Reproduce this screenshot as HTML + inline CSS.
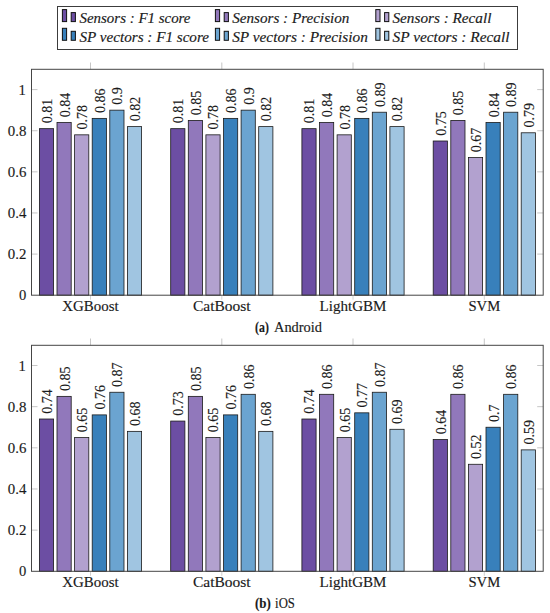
<!DOCTYPE html>
<html><head><meta charset="utf-8"><style>
html,body{margin:0;padding:0;background:#fff;}
svg{display:block;}
text{font-family:"Liberation Serif", serif;fill:#1a1a1a;stroke:#1a1a1a;stroke-width:0.15px;}
</style></head><body>
<svg width="550" height="613" viewBox="0 0 550 613">
<rect x="31.5" y="69.3" width="511.70000000000005" height="225.89999999999998" fill="#fff" stroke="none"/>
<text x="26.4" y="300.30" text-anchor="end" font-size="14.6">0</text>
<line x1="31.5" y1="254.08" x2="37.5" y2="254.08" stroke="#b8b8b8" stroke-width="0.8"/>
<line x1="537.2" y1="254.08" x2="543.2" y2="254.08" stroke="#b8b8b8" stroke-width="0.8"/>
<text x="26.4" y="259.18" text-anchor="end" font-size="14.6" textLength="18.6" lengthAdjust="spacingAndGlyphs">0.2</text>
<line x1="31.5" y1="212.96" x2="37.5" y2="212.96" stroke="#b8b8b8" stroke-width="0.8"/>
<line x1="537.2" y1="212.96" x2="543.2" y2="212.96" stroke="#b8b8b8" stroke-width="0.8"/>
<text x="26.4" y="218.06" text-anchor="end" font-size="14.6" textLength="18.6" lengthAdjust="spacingAndGlyphs">0.4</text>
<line x1="31.5" y1="171.84" x2="37.5" y2="171.84" stroke="#b8b8b8" stroke-width="0.8"/>
<line x1="537.2" y1="171.84" x2="543.2" y2="171.84" stroke="#b8b8b8" stroke-width="0.8"/>
<text x="26.4" y="176.94" text-anchor="end" font-size="14.6" textLength="18.6" lengthAdjust="spacingAndGlyphs">0.6</text>
<line x1="31.5" y1="130.72" x2="37.5" y2="130.72" stroke="#b8b8b8" stroke-width="0.8"/>
<line x1="537.2" y1="130.72" x2="543.2" y2="130.72" stroke="#b8b8b8" stroke-width="0.8"/>
<text x="26.4" y="135.82" text-anchor="end" font-size="14.6" textLength="18.6" lengthAdjust="spacingAndGlyphs">0.8</text>
<line x1="31.5" y1="89.60" x2="37.5" y2="89.60" stroke="#b8b8b8" stroke-width="0.8"/>
<line x1="537.2" y1="89.60" x2="543.2" y2="89.60" stroke="#b8b8b8" stroke-width="0.8"/>
<text x="25.7" y="94.70" text-anchor="end" font-size="14.6">1</text>
<line x1="90.5" y1="295.2" x2="90.5" y2="299.7" stroke="#c4c4c4" stroke-width="0.8"/>
<line x1="90.5" y1="69.3" x2="90.5" y2="62.5" stroke="#b8b8b8" stroke-width="0.8"/>
<line x1="221.8" y1="295.2" x2="221.8" y2="299.7" stroke="#c4c4c4" stroke-width="0.8"/>
<line x1="221.8" y1="69.3" x2="221.8" y2="62.5" stroke="#b8b8b8" stroke-width="0.8"/>
<line x1="353.0" y1="295.2" x2="353.0" y2="299.7" stroke="#c4c4c4" stroke-width="0.8"/>
<line x1="353.0" y1="69.3" x2="353.0" y2="62.5" stroke="#b8b8b8" stroke-width="0.8"/>
<line x1="484.3" y1="295.2" x2="484.3" y2="299.7" stroke="#c4c4c4" stroke-width="0.8"/>
<line x1="484.3" y1="69.3" x2="484.3" y2="62.5" stroke="#b8b8b8" stroke-width="0.8"/>
<rect x="39.40" y="128.66" width="14.2" height="166.54" fill="#6c4ea3" stroke="#1a1a1a" stroke-width="0.8"/>
<text transform="translate(51.90,123.36) rotate(-90)" font-size="14">0.81</text>
<rect x="57.00" y="122.50" width="14.2" height="172.70" fill="#9178bb" stroke="#1a1a1a" stroke-width="0.8"/>
<text transform="translate(69.50,117.20) rotate(-90)" font-size="14">0.84</text>
<rect x="74.60" y="134.83" width="14.2" height="160.37" fill="#b2a1cf" stroke="#1a1a1a" stroke-width="0.8"/>
<text transform="translate(87.10,129.53) rotate(-90)" font-size="14">0.78</text>
<rect x="92.20" y="118.38" width="14.2" height="176.82" fill="#3880bb" stroke="#1a1a1a" stroke-width="0.8"/>
<text transform="translate(104.70,113.08) rotate(-90)" font-size="14">0.86</text>
<rect x="109.80" y="110.16" width="14.2" height="185.04" fill="#6ba4d0" stroke="#1a1a1a" stroke-width="0.8"/>
<text transform="translate(122.30,104.86) rotate(-90)" font-size="14">0.9</text>
<rect x="127.40" y="126.61" width="14.2" height="168.59" fill="#a0c5e1" stroke="#1a1a1a" stroke-width="0.8"/>
<text transform="translate(139.90,121.31) rotate(-90)" font-size="14">0.82</text>
<text x="90.5" y="310.70" text-anchor="middle" font-size="14" textLength="56.3" lengthAdjust="spacingAndGlyphs">XGBoost</text>
<rect x="170.70" y="128.66" width="14.2" height="166.54" fill="#6c4ea3" stroke="#1a1a1a" stroke-width="0.8"/>
<text transform="translate(183.20,123.36) rotate(-90)" font-size="14">0.81</text>
<rect x="188.30" y="120.44" width="14.2" height="174.76" fill="#9178bb" stroke="#1a1a1a" stroke-width="0.8"/>
<text transform="translate(200.80,115.14) rotate(-90)" font-size="14">0.85</text>
<rect x="205.90" y="134.83" width="14.2" height="160.37" fill="#b2a1cf" stroke="#1a1a1a" stroke-width="0.8"/>
<text transform="translate(218.40,129.53) rotate(-90)" font-size="14">0.78</text>
<rect x="223.50" y="118.38" width="14.2" height="176.82" fill="#3880bb" stroke="#1a1a1a" stroke-width="0.8"/>
<text transform="translate(236.00,113.08) rotate(-90)" font-size="14">0.86</text>
<rect x="241.10" y="110.16" width="14.2" height="185.04" fill="#6ba4d0" stroke="#1a1a1a" stroke-width="0.8"/>
<text transform="translate(253.60,104.86) rotate(-90)" font-size="14">0.9</text>
<rect x="258.70" y="126.61" width="14.2" height="168.59" fill="#a0c5e1" stroke="#1a1a1a" stroke-width="0.8"/>
<text transform="translate(271.20,121.31) rotate(-90)" font-size="14">0.82</text>
<text x="221.8" y="310.70" text-anchor="middle" font-size="14" textLength="57.6" lengthAdjust="spacingAndGlyphs">CatBoost</text>
<rect x="301.90" y="128.66" width="14.2" height="166.54" fill="#6c4ea3" stroke="#1a1a1a" stroke-width="0.8"/>
<text transform="translate(314.40,123.36) rotate(-90)" font-size="14">0.81</text>
<rect x="319.50" y="122.50" width="14.2" height="172.70" fill="#9178bb" stroke="#1a1a1a" stroke-width="0.8"/>
<text transform="translate(332.00,117.20) rotate(-90)" font-size="14">0.84</text>
<rect x="337.10" y="134.83" width="14.2" height="160.37" fill="#b2a1cf" stroke="#1a1a1a" stroke-width="0.8"/>
<text transform="translate(349.60,129.53) rotate(-90)" font-size="14">0.78</text>
<rect x="354.70" y="118.38" width="14.2" height="176.82" fill="#3880bb" stroke="#1a1a1a" stroke-width="0.8"/>
<text transform="translate(367.20,113.08) rotate(-90)" font-size="14">0.86</text>
<rect x="372.30" y="112.22" width="14.2" height="182.98" fill="#6ba4d0" stroke="#1a1a1a" stroke-width="0.8"/>
<text transform="translate(384.80,106.92) rotate(-90)" font-size="14">0.89</text>
<rect x="389.90" y="126.61" width="14.2" height="168.59" fill="#a0c5e1" stroke="#1a1a1a" stroke-width="0.8"/>
<text transform="translate(402.40,121.31) rotate(-90)" font-size="14">0.82</text>
<text x="353.0" y="310.70" text-anchor="middle" font-size="14" textLength="66.9" lengthAdjust="spacingAndGlyphs">LightGBM</text>
<rect x="433.20" y="141.00" width="14.2" height="154.20" fill="#6c4ea3" stroke="#1a1a1a" stroke-width="0.8"/>
<text transform="translate(445.70,135.70) rotate(-90)" font-size="14">0.75</text>
<rect x="450.80" y="120.44" width="14.2" height="174.76" fill="#9178bb" stroke="#1a1a1a" stroke-width="0.8"/>
<text transform="translate(463.30,115.14) rotate(-90)" font-size="14">0.85</text>
<rect x="468.40" y="157.45" width="14.2" height="137.75" fill="#b2a1cf" stroke="#1a1a1a" stroke-width="0.8"/>
<text transform="translate(480.90,152.15) rotate(-90)" font-size="14">0.67</text>
<rect x="486.00" y="122.50" width="14.2" height="172.70" fill="#3880bb" stroke="#1a1a1a" stroke-width="0.8"/>
<text transform="translate(498.50,117.20) rotate(-90)" font-size="14">0.84</text>
<rect x="503.60" y="112.22" width="14.2" height="182.98" fill="#6ba4d0" stroke="#1a1a1a" stroke-width="0.8"/>
<text transform="translate(516.10,106.92) rotate(-90)" font-size="14">0.89</text>
<rect x="521.20" y="132.78" width="14.2" height="162.42" fill="#a0c5e1" stroke="#1a1a1a" stroke-width="0.8"/>
<text transform="translate(533.70,127.48) rotate(-90)" font-size="14">0.79</text>
<text x="484.3" y="310.70" text-anchor="middle" font-size="14" textLength="31.8" lengthAdjust="spacingAndGlyphs">SVM</text>
<rect x="31.5" y="69.3" width="511.70000000000005" height="225.89999999999998" fill="none" stroke="#454545" stroke-width="1"/>
<rect x="31.5" y="345.3" width="511.70000000000005" height="225.99999999999994" fill="#fff" stroke="none"/>
<text x="26.4" y="576.40" text-anchor="end" font-size="14.6">0</text>
<line x1="31.5" y1="530.14" x2="37.5" y2="530.14" stroke="#b8b8b8" stroke-width="0.8"/>
<line x1="537.2" y1="530.14" x2="543.2" y2="530.14" stroke="#b8b8b8" stroke-width="0.8"/>
<text x="26.4" y="535.24" text-anchor="end" font-size="14.6" textLength="18.6" lengthAdjust="spacingAndGlyphs">0.2</text>
<line x1="31.5" y1="488.98" x2="37.5" y2="488.98" stroke="#b8b8b8" stroke-width="0.8"/>
<line x1="537.2" y1="488.98" x2="543.2" y2="488.98" stroke="#b8b8b8" stroke-width="0.8"/>
<text x="26.4" y="494.08" text-anchor="end" font-size="14.6" textLength="18.6" lengthAdjust="spacingAndGlyphs">0.4</text>
<line x1="31.5" y1="447.82" x2="37.5" y2="447.82" stroke="#b8b8b8" stroke-width="0.8"/>
<line x1="537.2" y1="447.82" x2="543.2" y2="447.82" stroke="#b8b8b8" stroke-width="0.8"/>
<text x="26.4" y="452.92" text-anchor="end" font-size="14.6" textLength="18.6" lengthAdjust="spacingAndGlyphs">0.6</text>
<line x1="31.5" y1="406.66" x2="37.5" y2="406.66" stroke="#b8b8b8" stroke-width="0.8"/>
<line x1="537.2" y1="406.66" x2="543.2" y2="406.66" stroke="#b8b8b8" stroke-width="0.8"/>
<text x="26.4" y="411.76" text-anchor="end" font-size="14.6" textLength="18.6" lengthAdjust="spacingAndGlyphs">0.8</text>
<line x1="31.5" y1="365.50" x2="37.5" y2="365.50" stroke="#b8b8b8" stroke-width="0.8"/>
<line x1="537.2" y1="365.50" x2="543.2" y2="365.50" stroke="#b8b8b8" stroke-width="0.8"/>
<text x="25.7" y="370.60" text-anchor="end" font-size="14.6">1</text>
<line x1="90.5" y1="571.3" x2="90.5" y2="575.8" stroke="#c4c4c4" stroke-width="0.8"/>
<line x1="90.5" y1="345.3" x2="90.5" y2="338.5" stroke="#b8b8b8" stroke-width="0.8"/>
<line x1="221.8" y1="571.3" x2="221.8" y2="575.8" stroke="#c4c4c4" stroke-width="0.8"/>
<line x1="221.8" y1="345.3" x2="221.8" y2="338.5" stroke="#b8b8b8" stroke-width="0.8"/>
<line x1="353.0" y1="571.3" x2="353.0" y2="575.8" stroke="#c4c4c4" stroke-width="0.8"/>
<line x1="353.0" y1="345.3" x2="353.0" y2="338.5" stroke="#b8b8b8" stroke-width="0.8"/>
<line x1="484.3" y1="571.3" x2="484.3" y2="575.8" stroke="#c4c4c4" stroke-width="0.8"/>
<line x1="484.3" y1="345.3" x2="484.3" y2="338.5" stroke="#b8b8b8" stroke-width="0.8"/>
<rect x="39.40" y="419.01" width="14.2" height="152.29" fill="#6c4ea3" stroke="#1a1a1a" stroke-width="0.8"/>
<text transform="translate(51.90,413.71) rotate(-90)" font-size="14">0.74</text>
<rect x="57.00" y="396.37" width="14.2" height="174.93" fill="#9178bb" stroke="#1a1a1a" stroke-width="0.8"/>
<text transform="translate(69.50,391.07) rotate(-90)" font-size="14">0.85</text>
<rect x="74.60" y="437.53" width="14.2" height="133.77" fill="#b2a1cf" stroke="#1a1a1a" stroke-width="0.8"/>
<text transform="translate(87.10,432.23) rotate(-90)" font-size="14">0.65</text>
<rect x="92.20" y="414.89" width="14.2" height="156.41" fill="#3880bb" stroke="#1a1a1a" stroke-width="0.8"/>
<text transform="translate(104.70,409.59) rotate(-90)" font-size="14">0.76</text>
<rect x="109.80" y="392.25" width="14.2" height="179.05" fill="#6ba4d0" stroke="#1a1a1a" stroke-width="0.8"/>
<text transform="translate(122.30,386.95) rotate(-90)" font-size="14">0.87</text>
<rect x="127.40" y="431.36" width="14.2" height="139.94" fill="#a0c5e1" stroke="#1a1a1a" stroke-width="0.8"/>
<text transform="translate(139.90,426.06) rotate(-90)" font-size="14">0.68</text>
<text x="90.5" y="586.80" text-anchor="middle" font-size="14" textLength="56.3" lengthAdjust="spacingAndGlyphs">XGBoost</text>
<rect x="170.70" y="421.07" width="14.2" height="150.23" fill="#6c4ea3" stroke="#1a1a1a" stroke-width="0.8"/>
<text transform="translate(183.20,415.77) rotate(-90)" font-size="14">0.73</text>
<rect x="188.30" y="396.37" width="14.2" height="174.93" fill="#9178bb" stroke="#1a1a1a" stroke-width="0.8"/>
<text transform="translate(200.80,391.07) rotate(-90)" font-size="14">0.85</text>
<rect x="205.90" y="437.53" width="14.2" height="133.77" fill="#b2a1cf" stroke="#1a1a1a" stroke-width="0.8"/>
<text transform="translate(218.40,432.23) rotate(-90)" font-size="14">0.65</text>
<rect x="223.50" y="414.89" width="14.2" height="156.41" fill="#3880bb" stroke="#1a1a1a" stroke-width="0.8"/>
<text transform="translate(236.00,409.59) rotate(-90)" font-size="14">0.76</text>
<rect x="241.10" y="394.31" width="14.2" height="176.99" fill="#6ba4d0" stroke="#1a1a1a" stroke-width="0.8"/>
<text transform="translate(253.60,389.01) rotate(-90)" font-size="14">0.86</text>
<rect x="258.70" y="431.36" width="14.2" height="139.94" fill="#a0c5e1" stroke="#1a1a1a" stroke-width="0.8"/>
<text transform="translate(271.20,426.06) rotate(-90)" font-size="14">0.68</text>
<text x="221.8" y="586.80" text-anchor="middle" font-size="14" textLength="57.6" lengthAdjust="spacingAndGlyphs">CatBoost</text>
<rect x="301.90" y="419.01" width="14.2" height="152.29" fill="#6c4ea3" stroke="#1a1a1a" stroke-width="0.8"/>
<text transform="translate(314.40,413.71) rotate(-90)" font-size="14">0.74</text>
<rect x="319.50" y="394.31" width="14.2" height="176.99" fill="#9178bb" stroke="#1a1a1a" stroke-width="0.8"/>
<text transform="translate(332.00,389.01) rotate(-90)" font-size="14">0.86</text>
<rect x="337.10" y="437.53" width="14.2" height="133.77" fill="#b2a1cf" stroke="#1a1a1a" stroke-width="0.8"/>
<text transform="translate(349.60,432.23) rotate(-90)" font-size="14">0.65</text>
<rect x="354.70" y="412.83" width="14.2" height="158.47" fill="#3880bb" stroke="#1a1a1a" stroke-width="0.8"/>
<text transform="translate(367.20,407.53) rotate(-90)" font-size="14">0.77</text>
<rect x="372.30" y="392.25" width="14.2" height="179.05" fill="#6ba4d0" stroke="#1a1a1a" stroke-width="0.8"/>
<text transform="translate(384.80,386.95) rotate(-90)" font-size="14">0.87</text>
<rect x="389.90" y="429.30" width="14.2" height="142.00" fill="#a0c5e1" stroke="#1a1a1a" stroke-width="0.8"/>
<text transform="translate(402.40,424.00) rotate(-90)" font-size="14">0.69</text>
<text x="353.0" y="586.80" text-anchor="middle" font-size="14" textLength="66.9" lengthAdjust="spacingAndGlyphs">LightGBM</text>
<rect x="433.20" y="439.59" width="14.2" height="131.71" fill="#6c4ea3" stroke="#1a1a1a" stroke-width="0.8"/>
<text transform="translate(445.70,434.29) rotate(-90)" font-size="14">0.64</text>
<rect x="450.80" y="394.31" width="14.2" height="176.99" fill="#9178bb" stroke="#1a1a1a" stroke-width="0.8"/>
<text transform="translate(463.30,389.01) rotate(-90)" font-size="14">0.86</text>
<rect x="468.40" y="464.28" width="14.2" height="107.02" fill="#b2a1cf" stroke="#1a1a1a" stroke-width="0.8"/>
<text transform="translate(480.90,458.98) rotate(-90)" font-size="14">0.52</text>
<rect x="486.00" y="427.24" width="14.2" height="144.06" fill="#3880bb" stroke="#1a1a1a" stroke-width="0.8"/>
<text transform="translate(498.50,421.94) rotate(-90)" font-size="14">0.7</text>
<rect x="503.60" y="394.31" width="14.2" height="176.99" fill="#6ba4d0" stroke="#1a1a1a" stroke-width="0.8"/>
<text transform="translate(516.10,389.01) rotate(-90)" font-size="14">0.86</text>
<rect x="521.20" y="449.88" width="14.2" height="121.42" fill="#a0c5e1" stroke="#1a1a1a" stroke-width="0.8"/>
<text transform="translate(533.70,444.58) rotate(-90)" font-size="14">0.59</text>
<text x="484.3" y="586.80" text-anchor="middle" font-size="14" textLength="31.8" lengthAdjust="spacingAndGlyphs">SVM</text>
<rect x="31.5" y="345.3" width="511.70000000000005" height="225.99999999999994" fill="none" stroke="#454545" stroke-width="1"/>
<text x="255.1" y="331.6" font-size="14" font-weight="bold" textLength="13.8" lengthAdjust="spacingAndGlyphs">(a)</text>
<text x="274" y="331.6" font-size="14" textLength="48" lengthAdjust="spacingAndGlyphs">Android</text>
<text x="254.9" y="607.6" font-size="14" font-weight="bold" textLength="15.8" lengthAdjust="spacingAndGlyphs">(b)</text>
<text x="275.1" y="607.6" font-size="14" textLength="19.8" lengthAdjust="spacingAndGlyphs">iOS</text>
<rect x="57.5" y="6.5" width="460" height="43" fill="#fff" stroke="#3c3c3c" stroke-width="1"/>
<rect x="62.40" y="9.60" width="4.2" height="12" fill="#6c4ea3" stroke="#111" stroke-width="1"/>
<rect x="71.20" y="12.60" width="4.2" height="9" fill="#6c4ea3" stroke="#111" stroke-width="1"/>
<text x="79.5" y="22.8" font-size="14" font-style="italic" textLength="111" lengthAdjust="spacingAndGlyphs">Sensors : F1 score</text>
<rect x="62.40" y="28.30" width="4.2" height="12" fill="#3880bb" stroke="#111" stroke-width="1"/>
<rect x="71.20" y="31.30" width="4.2" height="9" fill="#3880bb" stroke="#111" stroke-width="1"/>
<text x="79.5" y="41.5" font-size="14" font-style="italic" textLength="129.5" lengthAdjust="spacingAndGlyphs">SP vectors : F1 score</text>
<rect x="215.40" y="9.60" width="4.2" height="12" fill="#9178bb" stroke="#111" stroke-width="1"/>
<rect x="224.20" y="12.60" width="4.2" height="9" fill="#9178bb" stroke="#111" stroke-width="1"/>
<text x="232.2" y="22.8" font-size="14" font-style="italic" textLength="117.2" lengthAdjust="spacingAndGlyphs">Sensors : Precision</text>
<rect x="215.40" y="28.30" width="4.2" height="12" fill="#6ba4d0" stroke="#111" stroke-width="1"/>
<rect x="224.20" y="31.30" width="4.2" height="9" fill="#6ba4d0" stroke="#111" stroke-width="1"/>
<text x="232.2" y="41.5" font-size="14" font-style="italic" textLength="135.7" lengthAdjust="spacingAndGlyphs">SP vectors : Precision</text>
<rect x="375.80" y="9.60" width="4.2" height="12" fill="#b2a1cf" stroke="#111" stroke-width="1"/>
<rect x="384.60" y="12.60" width="4.2" height="9" fill="#b2a1cf" stroke="#111" stroke-width="1"/>
<text x="392.5" y="22.8" font-size="14" font-style="italic" textLength="98.9" lengthAdjust="spacingAndGlyphs">Sensors : Recall</text>
<rect x="375.80" y="28.30" width="4.2" height="12" fill="#a0c5e1" stroke="#111" stroke-width="1"/>
<rect x="384.60" y="31.30" width="4.2" height="9" fill="#a0c5e1" stroke="#111" stroke-width="1"/>
<text x="392.5" y="41.5" font-size="14" font-style="italic" textLength="117.1" lengthAdjust="spacingAndGlyphs">SP vectors : Recall</text>
</svg></body></html>
